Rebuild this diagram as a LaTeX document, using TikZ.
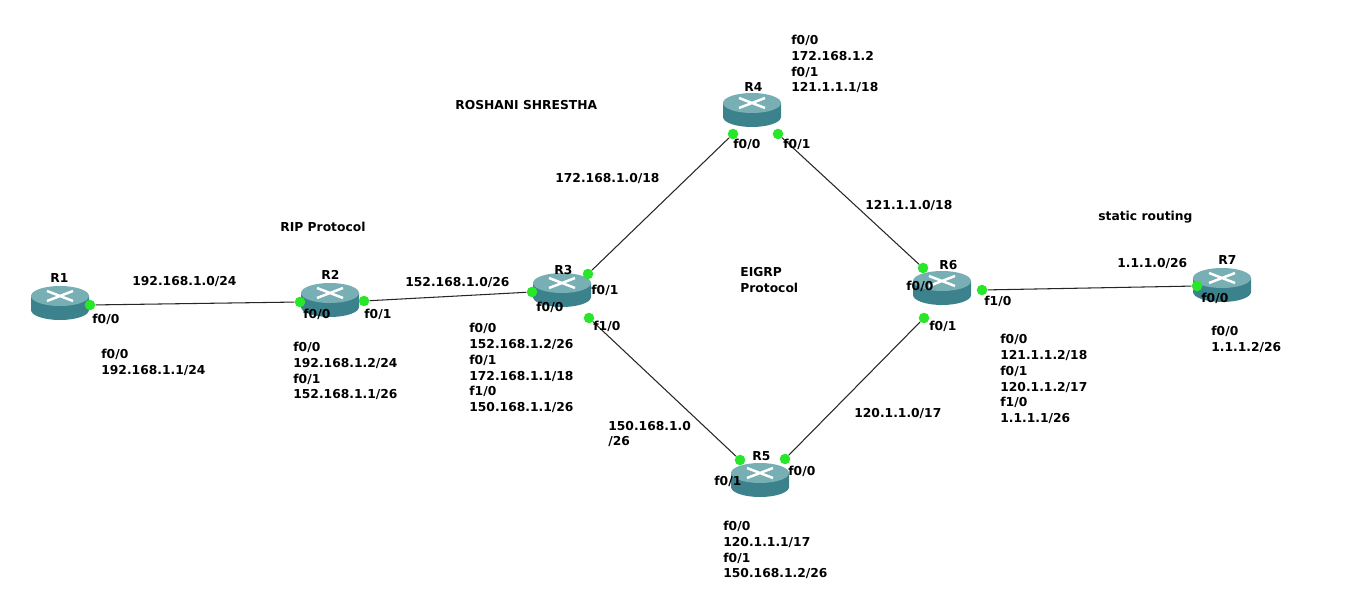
\documentclass[tikz,border=0pt]{standalone}
\usepackage{fontspec}
\setmainfont{DejaVu Sans}
\definecolor{rtop}{RGB}{120,175,180}
\definecolor{rbody}{RGB}{60,130,140}
\definecolor{port}{RGB}{40,230,40}
\tikzset{
  lbl/.style={anchor=west, font=\bfseries\fontsize{7}{9}\selectfont, inner sep=0pt, align=left},
  link/.style={draw=black!85, line width=0.6pt},
  dot/.style={circle, fill=port, inner sep=0pt, minimum size=6pt},
  router/.pic={
    \fill[rbody] (-29,-7) -- (-29,7) arc[start angle=180,end angle=0,x radius=29,y radius=10] -- (29,-7) -- cycle;
    \fill[rtop] (0,-7) ellipse[x radius=29, y radius=10];
    \draw[white, line width=1.4pt] (-13,-12) -- (13,-2) (-13,-2) -- (13,-12);
    \coordinate (-c) at (0,0);
  }
}
\begin{document}
\begin{tikzpicture}[x=0.02cm, y=-0.02cm]
\useasboundingbox (0,0) rectangle (1358,597);
% routers
\pic (r1) at (60,303) {router};
\pic (r2) at (330,300) {router};
\pic (r3) at (562,290) {router};
\pic (r4) at (752,110) {router};
\pic (r5) at (760,480) {router};
\pic (r6) at (942,288) {router};
\pic (r7) at (1222,285) {router};
% ports
\node[dot] (p1a) at (90,305) {};
\node[dot] (p2a) at (300,302) {};
\node[dot] (p2b) at (364,301) {};
\node[dot] (p3a) at (532,292) {};
\node[dot] (p3b) at (588,274) {};
\node[dot] (p3c) at (589,318) {};
\node[dot] (p4a) at (733,134) {};
\node[dot] (p4b) at (778,134) {};
\node[dot] (p5a) at (740,460) {};
\node[dot] (p5b) at (785,459) {};
\node[dot] (p6a) at (923,268) {};
\node[dot] (p6b) at (924,318) {};
\node[dot] (p6c) at (982,290) {};
\node[dot] (p7a) at (1197,286) {};
% links
\draw[link] (p1a) -- (p2a);
\draw[link] (p2b) -- (p3a);
\draw[link] (p3b) -- (p4a);
\draw[link] (p4b) -- (p6a);
\draw[link] (p3c) -- (p5a);
\draw[link] (p5b) -- (p6b);
\draw[link] (p6c) -- (p7a);
% router names
\node[lbl] (n1) at (50,278) {R1};
\node[lbl] (n2) at (321,275) {R2};
\node[lbl] (n3) at (554,270) {R3};
\node[lbl] (n4) at (744,87) {R4};
\node[lbl] (n5) at (752,456) {R5};
\node[lbl] (n6) at (939,265) {R6};
\node[lbl] (n7) at (1218,260) {R7};
% interface names
\node[lbl] (i1a) at (92,319) {f0/0};
\node[lbl] (i2a) at (303,314) {f0/0};
\node[lbl] (i2b) at (364,314) {f0/1};
\node[lbl] (i3a) at (536,307) {f0/0};
\node[lbl] (i3b) at (591,290) {f0/1};
\node[lbl] (i3c) at (593,326) {f1/0};
\node[lbl] (i4a) at (733,144) {f0/0};
\node[lbl] (i4b) at (783,144) {f0/1};
\node[lbl] (i5a) at (714,481) {f0/1};
\node[lbl] (i5b) at (788,471) {f0/0};
\node[lbl] (i6a) at (906,286) {f0/0};
\node[lbl] (i6b) at (929,326) {f0/1};
\node[lbl] (i6c) at (984,301) {f1/0};
\node[lbl] (i7a) at (1201,298) {f0/0};
% network labels
\node[lbl] (net12) at (132,282) {192.168.1.0/24};
\node[lbl] (net23) at (405,283) {152.168.1.0/26};
\node[lbl] (net34) at (555,179) {172.168.1.0/18};
\node[lbl] (net46) at (865,206) {121.1.1.0/18};
\node[lbl] (net35) at (608,434) {150.168.1.0\\/26};
\node[lbl] (net56) at (854,414) {120.1.1.0/17};
\node[lbl] (net67) at (1117,264) {1.1.1.0/26};
% addressing
\node[lbl] (a1) at (101,362) {f0/0\\192.168.1.1/24};
\node[lbl] (a2) at (293,371) {f0/0\\192.168.1.2/24\\f0/1\\152.168.1.1/26};
\node[lbl] (a3) at (469,368) {f0/0\\152.168.1.2/26\\f0/1\\172.168.1.1/18\\f1/0\\150.168.1.1/26};
\node[lbl] (a4) at (791,64) {f0/0\\172.168.1.2\\f0/1\\121.1.1.1/18};
\node[lbl] (a5) at (723,550) {f0/0\\120.1.1.1/17\\f0/1\\150.168.1.2/26};
\node[lbl] (a6) at (1000,379) {f0/0\\121.1.1.2/18\\f0/1\\120.1.1.2/17\\f1/0\\1.1.1.1/26};
\node[lbl] (a7) at (1211,339) {f0/0\\1.1.1.2/26};
% titles
\node[lbl] (t0) at (455,105) {ROSHANI SHRESTHA};
\node[lbl] (t1) at (280,227) {RIP Protocol};
\node[lbl] (t2) at (740,280) {EIGRP\\Protocol};
\node[lbl] (t3) at (1098,217) {static routing};
\end{tikzpicture}
\end{document}
